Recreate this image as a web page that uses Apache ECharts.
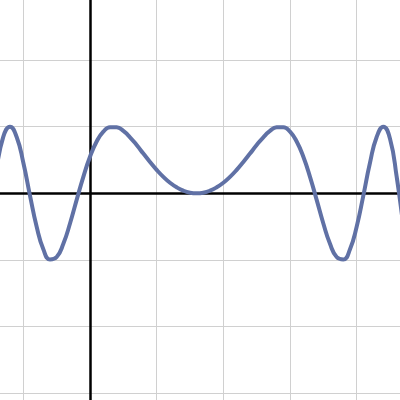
<!DOCTYPE html>
<html><head><meta charset="utf-8">
<script src="https://cdn.jsdelivr.net/npm/echarts@6/dist/echarts.min.js"></script>
<style>html,body{margin:0;padding:0;background:#fff}#c{width:400px;height:400px}</style>
</head><body><div id="c"></div>
<script>
const xs = [-1.4,-1.3,-1.2,-1.1,-1.0,-0.9,-0.8,-0.7,-0.6,-0.5,-0.4,-0.3,-0.2,-0.1,0,0.1,0.2,0.3,0.4,0.5,0.6,0.7,0.8,0.9,1.0,1.1,1.2,1.3,1.4,1.5,1.6,1.7,1.8,1.9,2.0,2.1,2.2,2.3,2.4,2.5,2.6,2.7,2.8,2.9,3.0,3.1,3.2,3.3,3.4,3.5,3.6,3.7,3.8,3.9,4.0,4.1,4.2,4.3,4.4,4.5,4.6,4.7];
const ys = [0.35,0.85,1.0,0.845,0.459,-0.033,-0.5,-0.838,-0.992,-0.955,-0.757,-0.452,-0.098,0.248,0.549,0.778,0.925,0.993,0.991,0.936,0.841,0.724,0.597,0.471,0.352,0.247,0.159,0.09,0.04,0.01,0,0.01,0.04,0.09,0.159,0.247,0.352,0.471,0.597,0.724,0.841,0.936,0.991,0.993,0.925,0.778,0.549,0.248,-0.098,-0.452,-0.757,-0.955,-0.992,-0.838,-0.5,-0.033,0.459,0.845,0.9999,0.82,0.25,-0.5];
const xGrid = [-1,0,1,2,3,4];
const yGrid = [-3,-2,-1,0,1,2];
const chart = echarts.init(document.getElementById('c'));
const gl = {color:'#d0d0d0',width:1,type:'solid'};
chart.setOption({
  animation:false,
  grid:{left:0,top:0,right:0,bottom:0,containLabel:false},
  xAxis:{type:'value',min:-1.35,max:4.65,z:5,
    axisLine:{onZero:true,lineStyle:{color:'#000',width:2.5}},axisTick:{show:false},axisLabel:{show:false},splitLine:{show:false}},
  yAxis:{type:'value',min:-3.1,max:2.9,z:5,
    axisLine:{show:true,onZero:true,lineStyle:{color:'#000',width:2.5}},axisTick:{show:false},axisLabel:{show:false},splitLine:{show:false}},
  series:[
    {type:'line',data:[],z:1,silent:true,
      markLine:{silent:true,symbol:'none',label:{show:false},lineStyle:gl,animation:false,
        data:xGrid.map(v=>({xAxis:v})).concat(yGrid.map(v=>({yAxis:v})))}},
    {type:'line',data:xs.map((x,i)=>[x,ys[i]]),smooth:0.5,showSymbol:false,z:10,
      lineStyle:{color:'#6071a5',width:4}}]
});
</script></body></html>
